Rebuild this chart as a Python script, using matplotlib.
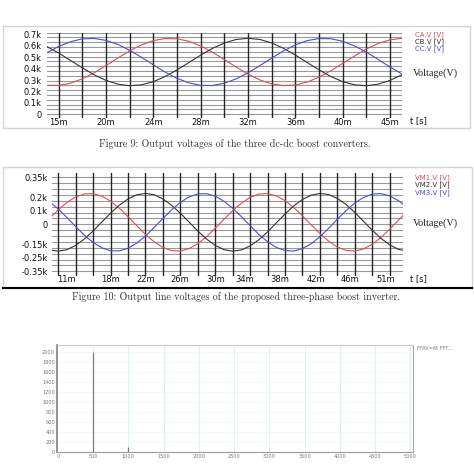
import numpy as np
import matplotlib
matplotlib.use('Agg')
import matplotlib.pyplot as plt
from matplotlib.patches import Rectangle
from matplotlib.transforms import Bbox

# ---- Figure 9: dc-dc boost converter outputs (k V), sampled each 1 ms ----
t1 = list(range(15, 46))
ca_v = [0.253, 0.252, 0.272, 0.310, 0.363, 0.426, 0.492, 0.555, 0.607, 0.645,
        0.663, 0.661, 0.639, 0.598, 0.543, 0.479, 0.413, 0.352, 0.301, 0.266,
        0.251, 0.256, 0.282, 0.325, 0.382, 0.446, 0.511, 0.572, 0.620, 0.652,
        0.665]
cb_v = [0.593, 0.537, 0.472, 0.407, 0.346, 0.297, 0.264, 0.250, 0.258, 0.285,
        0.330, 0.388, 0.453, 0.518, 0.577, 0.624, 0.655, 0.665, 0.655, 0.624,
        0.577, 0.518, 0.453, 0.388, 0.330, 0.285, 0.258, 0.250, 0.264, 0.297,
        0.346]
cc_v = [0.537, 0.593, 0.635, 0.660, 0.664, 0.647, 0.612, 0.560, 0.499, 0.433,
        0.369, 0.315, 0.275, 0.253, 0.252, 0.272, 0.310, 0.363, 0.426, 0.492,
        0.555, 0.607, 0.645, 0.663, 0.661, 0.639, 0.598, 0.543, 0.479, 0.413,
        0.352]
xt1_pos = [16, 20, 24, 28, 32, 36, 40, 44]
xt1_lab = ['15m', '20m', '24m', '28m', '32m', '36m', '40m', '45m']
yt1_pos = [0, 0.1, 0.2, 0.3, 0.4, 0.5, 0.6, 0.7]
yt1_lab = ['0', '0.1k', '0.2k', '0.3k', '0.4k', '0.5k', '0.6k', '0.7k']
leg1 = ['CA.V [V]', 'CB.V [V]', 'CC.V [V]']

# ---- Figure 10: inverter line voltages (k V), sampled each 1 ms ----
t2 = list(range(11, 53))
vm1 = [0.043, 0.108, 0.163, 0.204, 0.226, 0.228, 0.210, 0.172, 0.120, 0.057,
       -0.010, -0.075, -0.130, -0.172, -0.196, -0.199, -0.181, -0.145, -0.093,
       -0.030, 0.037, 0.101, 0.158, 0.200, 0.225, 0.229, 0.212, 0.177, 0.125,
       0.063, -0.003, -0.068, -0.125, -0.169, -0.194, -0.199, -0.184, -0.149,
       -0.098, -0.037, 0.030, 0.095]
vm2 = [-0.191, -0.200, -0.189, -0.157, -0.109, -0.050, 0.017, 0.083, 0.142,
       0.189, 0.220, 0.230, 0.220, 0.189, 0.142, 0.083, 0.017, -0.050, -0.109,
       -0.157, -0.189, -0.200, -0.191, -0.161, -0.115, -0.056, 0.010, 0.076,
       0.137, 0.185, 0.217, 0.230, 0.222, 0.193, 0.148, 0.089, 0.023, -0.043,
       -0.104, -0.153, -0.186, -0.200]
vm3 = [0.168, 0.114, 0.050, -0.017, -0.081, -0.135, -0.175, -0.197, -0.198,
       -0.178, -0.140, -0.087, -0.023, 0.043, 0.108, 0.163, 0.204, 0.226, 0.228,
       0.210, 0.172, 0.120, 0.057, -0.010, -0.075, -0.130, -0.172, -0.196,
       -0.199, -0.181, -0.145, -0.093, -0.030, 0.037, 0.101, 0.158, 0.200,
       0.225, 0.229, 0.212, 0.177, 0.125]
xt2_pos = [12.9, 18, 22, 25.9, 30, 33.4, 37.4, 41.5, 45.5, 49.5]
xt2_lab = ['11m', '18m', '22m', '26m', '30m', '34m', '38m', '42m', '46m', '51m']
yt2_pos = [0.35, 0.2, 0.1, 0, -0.15, -0.25, -0.35]
yt2_lab = ['0.35k', '0.2k', '0.1k', '0', '-0.15k', '-0.25k', '-0.35k']
leg2 = ['VM1.V [V]', 'VM2.V [V]', 'VM3.V [V]']

# ---- FFT spectrum ----
fft_freq = [500, 1000]
fft_mag = [1990, 95]
xt3 = [0, 500, 1000, 1500, 2000, 2500, 3000, 3500, 4000, 4500, 5000]
yt3 = [0, 200, 400, 600, 800, 1000, 1200, 1400, 1600, 1800, 2000]

captions = ['Figure 9: Output voltages of the three dc-dc boost converters.',
            'Figure 10: Output line voltages of the proposed three-phase boost inverter.']

RED, BLK, BLU = '#e24a58', '#333333', '#4b4be0'
W, H = 474, 467
fig = plt.figure(figsize=(W / 100, H / 100), dpi=100)
fig.patch.set_facecolor('white')

# overlay in pixel coordinates for boxes / free text
ov = fig.add_axes([0, 0, 1, 1])
ov.set_xlim(0, W)
ov.set_ylim(H, 0)
ov.axis('off')
ov.patch.set_visible(False)


def px_axes(l, t, r, b):
    return fig.add_axes([l / W, 1 - b / H, (r - l) / W, (b - t) / H])


sans = 'DejaVu Sans'

# boxes around the two simulator screenshots
ov.add_patch(Rectangle((2.7, 26), 467.3, 102.3, fill=False, ec='#d4d4d4', lw=1))
ov.add_patch(Rectangle((2.7, 167), 469, 120.5, fill=False, ec='#d4d4d4', lw=1))
ov.plot([3, 472], [288, 288], color='black', lw=1.5)


def wave_panel(ax, t, series, xlim, ylim, hgrid, vgrid, xt, xl, yt, yl, ypad):
    ax.set_xlim(*xlim)
    ax.set_ylim(*ylim)
    for y in hgrid:
        ax.axhline(y, color='#9a9a9a', lw=0.8, zorder=1)
    for x in vgrid:
        ax.axvline(x, color='#262626', lw=1.0, zorder=2)
    for vals, c in zip(series, [RED, BLK, BLU]):
        ax.plot(t, vals, color=c, lw=0.8, zorder=3)
    for s in ax.spines.values():
        s.set_visible(False)
    ax.set_xticks(xt, xl)
    ax.set_yticks(yt, yl)
    ax.tick_params(axis='x', length=0, pad=-0.5, labelsize=6, labelcolor='#111')
    ax.tick_params(axis='y', length=0, pad=ypad, labelsize=6, labelcolor='#111')
    for lab in ax.get_xticklabels() + ax.get_yticklabels():
        lab.set_family(sans)


ax1 = px_axes(46.7, 32.7, 402, 118.3)
wave_panel(ax1, t1, [ca_v, cb_v, cc_v], (15, 45), (-0.035, 0.714),
           np.arange(0, 0.715, 0.042), range(16, 45, 2),
           xt1_pos, xt1_lab, yt1_pos, yt1_lab, 3.6)

ax2 = px_axes(51.7, 173.3, 402.7, 276)
wave_panel(ax2, t2, [vm1, vm2, vm3], (11.25, 51.5), (-0.385, 0.38),
           np.linspace(-0.35, 0.35, 17), range(12, 51, 2),
           xt2_pos, xt2_lab, yt2_pos, yt2_lab, 2.7)

# legends / labels of the waveform panels
for lab, c, y in zip(leg1, [RED, BLK, BLU], [35, 42, 49]):
    ov.text(415, y, lab, color=c, fontsize=5.0, family=sans, va='center', ha='left')
clip = Bbox.from_extents(0, 0, 463, H)
for lab, c, y in zip(leg2, [RED, BLK, BLU], [177.3, 185, 193]):
    tx = ov.text(415, y, lab, color=c, fontsize=5.0, family=sans, va='center', ha='left')
    tx.set_clip_on(True)
    tx.set_clip_box(clip)
for y in [72.7, 223.3]:
    ov.text(413, y, 'Voltage(V)', fontsize=7.3, family='Liberation Serif',
            va='center', ha='left', color='#222')
for y in [120.7, 278.3]:
    ov.text(410, y, 't [s]', fontsize=6, family=sans, va='center', ha='left', color='#111')

ov.text(235, 144, captions[0], fontsize=7.2, family='cmr10', ha='center', va='center', color='#333')
ov.text(236, 296.7, captions[1], fontsize=7.2, family='cmr10', ha='center', va='center', color='#333')

# ---- FFT panel ----
ax3 = px_axes(56.7, 344.5, 413.3, 452.3)
ax3.set_xlim(-15, 5040)
ax3.set_ylim(-10, 2150)
for x in xt3[1:]:
    ax3.axvline(x, color='#dcf2f2', lw=0.8, zorder=1)
for y in yt3[1:]:
    ax3.axhline(y, color='#f3f8f8', lw=0.6, zorder=1)
ax3.vlines(fft_freq, 0, fft_mag, color='#7a7a7a', lw=0.9, zorder=3)
ax3.spines['left'].set_color('#8a8a8a')
ax3.spines['left'].set_linewidth(1.3)
ax3.spines['bottom'].set_color('#9a9a9a')
ax3.spines['top'].set_color('#c8c8c8')
ax3.spines['right'].set_color('#a8a8a8')
ax3.set_xticks(xt3, [str(v) for v in xt3])
ax3.set_yticks(yt3, [str(v) for v in yt3])
ax3.tick_params(length=0, labelsize=3.6, labelcolor='#777', pad=1.2)
ov.text(416.7, 348, 'FFAV=6t FFT...', fontsize=3.6, family=sans, color='#777',
        va='center', ha='left')

fig.savefig('out.png', dpi=100)
